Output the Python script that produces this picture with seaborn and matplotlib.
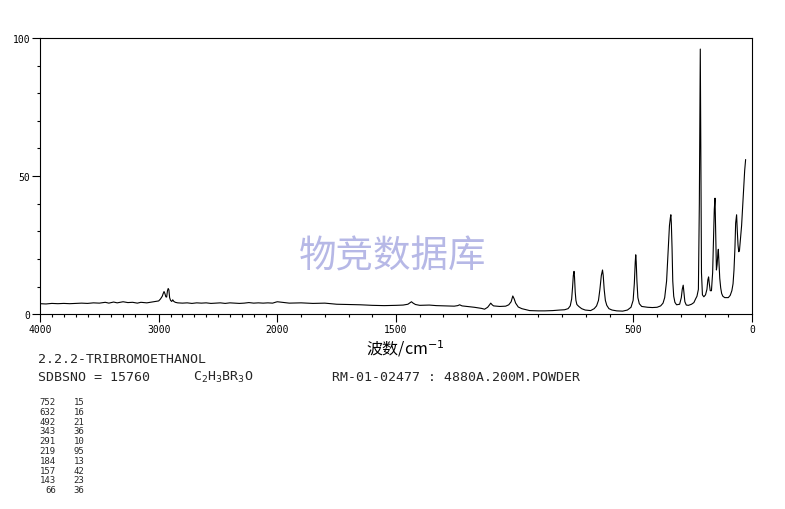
import numpy as np
import seaborn as sns
import matplotlib
matplotlib.use('Agg')
from matplotlib import pyplot as plt
from matplotlib.ticker import FixedLocator, MultipleLocator, NullFormatter

# Raman spectrum (wavenumber cm-1, relative intensity)
wavenumber = [4000, 3950, 3900, 3850, 3800, 3750, 3700, 3650, 3600, 3550,
              3500, 3450, 3420, 3380, 3350, 3300, 3260, 3220, 3180, 3150,
              3100, 3060, 3030, 3000, 2985, 2970, 2962, 2955, 2948, 2940,
              2933, 2926, 2920, 2914, 2908, 2900, 2890, 2882, 2872, 2860,
              2840, 2800, 2760, 2720, 2680, 2640, 2600, 2560, 2520, 2480,
              2440, 2400, 2360, 2320, 2280, 2240, 2200, 2160, 2120, 2080,
              2040, 2010, 2000, 1950, 1900, 1850, 1800, 1750, 1700, 1650,
              1600, 1550, 1500, 1470, 1450, 1440, 1435, 1428, 1418, 1400,
              1360, 1330, 1295, 1255, 1240, 1232, 1222, 1210, 1170, 1140,
              1127, 1114, 1105, 1101, 1095, 1089, 1063, 1038, 1025, 1015,
              1008, 1002, 996, 985, 970, 937, 900, 873, 840, 810,
              790, 775, 766, 760, 756, 753, 750, 748, 745, 742,
              738, 730, 718, 703, 690, 680, 665, 655, 647, 641,
              635, 630, 627, 623, 618, 612, 603, 590, 570, 545,
              525, 510, 501, 496, 492, 490, 488, 485, 481, 475,
              465, 440, 420, 400, 385, 375, 368, 360, 354, 348,
              344, 342, 340, 337, 334, 330, 325, 318, 305, 298,
              294, 290, 287, 283, 277, 268, 255, 245, 238, 232,
              226, 222, 219, 218, 216, 213, 209, 203, 196, 190,
              186, 183, 180, 176, 171, 166, 162, 159, 156, 153,
              150, 147, 144, 142, 140, 136, 132, 128, 123, 115,
              100, 92, 85, 80, 76, 72, 69, 65, 62, 59,
              56, 53, 49, 44, 39, 35, 31, 27]
intensity = [3.8, 3.7, 3.9, 3.8, 3.9, 3.8, 3.9, 4.0, 3.9, 4.1,
             4.0, 4.3, 4.0, 4.4, 4.1, 4.5, 4.2, 4.3, 4.0, 4.3,
             4.1, 4.4, 4.6, 4.8, 5.5, 6.5, 7.5, 8.2, 7.5, 6.3,
             6.2, 8.5, 9.3, 8.8, 6.0, 5.0, 4.6, 5.2, 4.6, 4.3,
             4.1, 4.0, 4.1, 3.9, 4.1, 4.0, 4.1, 3.9, 4.0, 4.1,
             3.9, 4.1, 4.0, 3.9, 4.0, 4.2, 4.0, 4.1, 4.0, 4.1,
             4.0, 4.4, 4.5, 4.0, 4.1, 3.9, 4.0, 3.6, 3.5, 3.4,
             3.2, 3.1, 3.2, 3.3, 3.6, 4.2, 4.5, 4.0, 3.5, 3.2,
             3.3, 3.1, 3.0, 2.9, 3.1, 3.4, 3.0, 2.9, 2.5, 2.1,
             1.8, 2.5, 3.5, 4.0, 3.4, 3.0, 2.8, 2.9, 3.4, 4.5,
             6.6, 5.5, 4.0, 2.6, 2.0, 1.3, 1.2, 1.2, 1.3, 1.5,
             1.6, 2.0, 3.0, 5.5, 10.0, 14.0, 15.5, 13.5, 8.0, 5.0,
             3.5, 2.8, 2.0, 1.5, 1.4, 1.3, 2.0, 3.0, 5.0, 9.0,
             14.0, 16.0, 14.0, 9.0, 5.0, 3.2, 2.0, 1.5, 1.2, 1.1,
             1.5, 2.5, 5.0, 11.0, 19.0, 21.5, 19.0, 12.0, 6.0, 3.8,
             2.8, 2.5, 2.4, 2.5, 3.0, 4.0, 6.0, 12.0, 22.0, 32.0,
             35.0, 36.0, 33.0, 24.0, 12.0, 6.5, 4.3, 3.4, 3.6, 6.0,
             9.0, 10.5, 8.0, 4.5, 3.3, 3.2, 3.6, 4.2, 5.5, 6.5,
             9.0, 40.0, 82.0, 96.0, 60.0, 15.0, 7.0, 6.3, 7.0, 9.0,
             12.5, 13.5, 11.0, 8.5, 8.5, 15.0, 28.0, 38.0, 42.0, 30.0,
             16.0, 18.0, 22.0, 23.5, 20.0, 13.0, 9.5, 7.5, 6.5, 6.0,
             6.0, 6.8, 8.5, 11.0, 16.0, 24.0, 33.0, 36.0, 30.0, 25.0,
             22.6, 23.0, 27.0, 32.0, 40.0, 46.0, 52.0, 56.0]

# peak table printed under the chart
peak_wn = [752, 632, 492, 343, 291, 219, 184, 157, 143, 66]
peak_int = [15, 16, 21, 36, 10, 95, 13, 42, 23, 36]

xtick_values = [4000, 3000, 2000, 1500, 500, 0]
ytick_values = [0, 50, 100]


# axis is compressed by half above 2000 cm-1
def fwd(x):
    x = np.asarray(x, dtype=float)
    return np.where(x > 2000, 2000 + (x - 2000) / 2, x)


def inv(u):
    u = np.asarray(u, dtype=float)
    return np.where(u > 2000, 2000 + (u - 2000) * 2, u)


sns.set_style('white')
plt.rcParams['font.family'] = ['DejaVu Sans Mono', 'Noto Sans CJK SC']

fig = plt.figure(figsize=(7.85, 5.10), dpi=100)
ax = fig.add_axes([0.051, 0.382, 0.907, 0.5415])

sns.lineplot(x=wavenumber, y=intensity, estimator=None, color='black',
             linewidth=0.8, ax=ax)

ax.set_xscale('function', functions=(fwd, inv))
ax.set_xlim(4000, 0)
ax.set_ylim(0, 100)

ax.xaxis.set_major_locator(FixedLocator(xtick_values))
ax.xaxis.set_minor_locator(MultipleLocator(100))
ax.xaxis.set_minor_formatter(NullFormatter())
ax.set_xticklabels([str(v) for v in xtick_values])
ax.yaxis.set_major_locator(FixedLocator(ytick_values))
ax.yaxis.set_minor_locator(MultipleLocator(10))
ax.set_yticklabels([str(v) for v in ytick_values])
ax.tick_params(which='major', length=6, width=0.8, labelsize=7, pad=1,
               color='black', labelcolor='black')
ax.tick_params(which='minor', length=2.5, width=0.8, color='black')
ax.tick_params(axis='both', which='both', direction='out',
               bottom=True, left=True, top=False, right=False)
ax.set_xlabel('')
ax.set_ylabel('')
for sp in ax.spines.values():
    sp.set_color('black')
    sp.set_linewidth(0.8)

# watermark
fig.text(0.50, 0.497, '物竞数据库', ha='center', va='center', fontsize=27,
         color='#b6b8e6', family=['Noto Sans CJK SC', 'DejaVu Sans'])

fig.text(0.516, 0.305, '波数/cm$^{-1}$', ha='center', va='baseline',
         fontsize=11.5, color='black', family=['Noto Sans CJK SC', 'DejaVu Sans'])

fig.text(0.048, 0.288, '2.2.2-TRIBROMOETHANOL', fontsize=9.5, va='baseline')
fig.text(0.048, 0.253, 'SDBSNO = 15760', fontsize=9.5, va='baseline')
fig.text(0.246, 0.253, 'C$_2$H$_3$BR$_3$O', fontsize=9.5, va='baseline')
fig.text(0.423, 0.253, 'RM-01-02477 : 4880A.200M.POWDER', fontsize=9.5,
         va='baseline')

for i, (w, v) in enumerate(zip(peak_wn, peak_int)):
    yy = 1 - (405 + 9.8 * i) / 510
    fig.text(0.071, yy, str(w), fontsize=6.5, ha='right', va='baseline')
    fig.text(0.094, yy, str(v), fontsize=6.5, ha='left', va='baseline')

fig.savefig('out.png', dpi=100)
